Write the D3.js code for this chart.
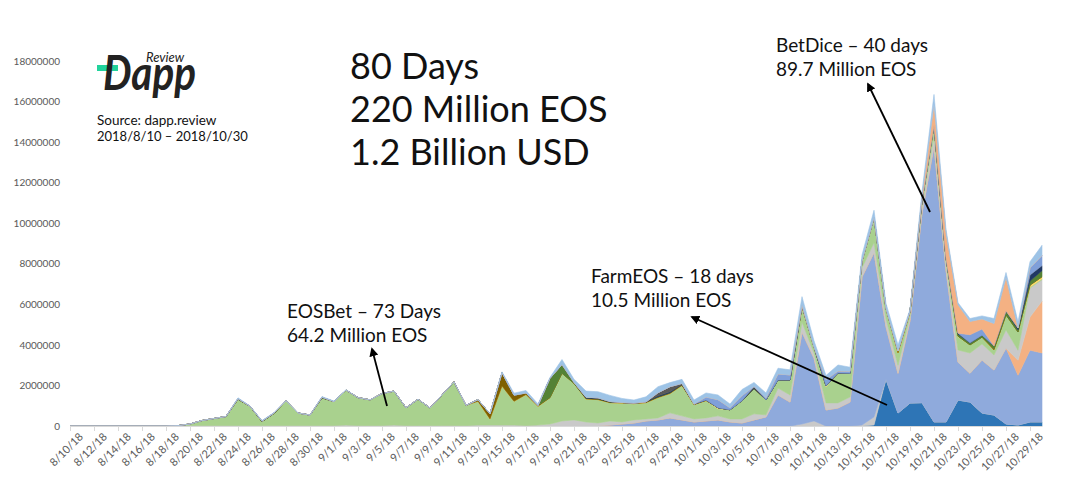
<!DOCTYPE html>
<html>
<head>
<meta charset="utf-8">
<script src="https://cdn.jsdelivr.net/npm/d3@7"></script>
<style>
	body { margin: 0; background: #fff; }
	text { font-family: Lato, 'Open Sans', sans-serif; }
	.axis-text { font-size: 10px; fill: #595959; }
	.x-text { font-size: 11px; fill: #595959; }
</style>
</head>
<body>
<div id="chart"></div>
<script>
// dates 8/10/18 .. 10/30/18
const dates = [
	'8/10/18','8/11/18','8/12/18','8/13/18','8/14/18','8/15/18','8/16/18','8/17/18','8/18/18','8/19/18',
	'8/20/18','8/21/18','8/22/18','8/23/18','8/24/18','8/25/18','8/26/18','8/27/18','8/28/18','8/29/18',
	'8/30/18','8/31/18','9/1/18','9/2/18','9/3/18','9/4/18','9/5/18','9/6/18','9/7/18','9/8/18',
	'9/9/18','9/10/18','9/11/18','9/12/18','9/13/18','9/14/18','9/15/18','9/16/18','9/17/18','9/18/18',
	'9/19/18','9/20/18','9/21/18','9/22/18','9/23/18','9/24/18','9/25/18','9/26/18','9/27/18','9/28/18',
	'9/29/18','9/30/18','10/1/18','10/2/18','10/3/18','10/4/18','10/5/18','10/6/18','10/7/18','10/8/18',
	'10/9/18','10/10/18','10/11/18','10/12/18','10/13/18','10/14/18','10/15/18','10/16/18','10/17/18','10/18/18',
	'10/19/18','10/20/18','10/21/18','10/22/18','10/23/18','10/24/18','10/25/18','10/26/18','10/27/18','10/28/18',
	'10/29/18','10/30/18'
];

// daily volume in million EOS, stacked bottom -> top
const farmeos = [
	0,0,0,0,0,0,0,0,0,0, 0,0,0,0,0,0,0,0,0,0, 0,0,0,0,0,0,0,0,0,0, 0,0,0,0,0,0,0,0,0,0,
	0,0,0,0,0,0,0,0,0,0, 0,0,0,0,0,0,0,0,0,0,
	0,0,0,0,0,0,0,0.05,2.3,0.64,
	1.13,1.15,0.2,0.2,1.28,1.18,0.64,0.54,0.1,0.05,
	0.2,0.2
];
const grayLow = [
	0,0,0,0,0,0,0,0,0,0, 0,0,0,0,0,0,0,0,0,0, 0,0,0,0,0,0,0,0,0,0, 0,0,0,0,0,0,0,0,0,0,
	0,0,0,0,0,0,0,0,0,0, 0,0,0,0,0,0,0,0,0,0,
	0,0.1,0.25,0,0,0,0.05,0.4,0,0,
	0,0,0,0,0,0,0,0,0,0,
	0,0
];
const betdice = [
	0,0,0,0,0,0,0,0,0,0, 0,0,0,0,0,0,0,0,0,0, 0,0,0,0,0,0,0,0,0,0, 0,0,0,0,0,0,0,0,0,0,
	0,0,0,0,0,0.05,0.1,0.15,0.25,0.3,
	0.4,0.3,0.2,0.25,0.3,0.2,0.15,0.3,0.45,1.53,
	1.18,4.53,3.1,0.79,0.89,1.18,7.3,8.1,2.6,1.96,
	4.07,9.35,13.6,7.5,1.87,1.42,2.61,2.22,3.74,2.45,
	3.54,3.4
];
const orangeLow = [
	0,0,0,0,0,0,0,0,0,0, 0,0,0,0,0,0,0,0,0,0, 0,0,0,0,0,0,0,0,0,0, 0,0,0,0,0,0,0,0,0,0,
	0,0,0,0,0,0,0,0,0,0, 0,0,0,0,0,0,0,0,0,0, 0,0,0,0,0,0,0,0,0,0,
	0,0,0,0,0,0,0,0,0,0.74,
	1.63,2.56
];
const gray = [
	0,0,0,0,0,0,0,0,0,0,
	0.02,0.02,0.02,0.02,0.02,0.02,0.02,0.02,0.02,0.02,
	0.02,0.02,0.03,0.05,0.03,0.02,0.03,0.05,0.03,0.02,
	0.02,0.03,0.03,0.02,0.05,0.05,0.05,0.05,0.03,0.05,
	0.1,0.25,0.3,0.2,0.15,0.2,0.1,0.15,0.1,0.1,
	0.25,0.2,0.15,0.15,0.2,0.15,0.2,0.3,0.1,0.34,
	0.35,0.5,0.25,0.35,0.25,0.25,0.45,0.5,0.4,0.4,
	0.2,0.3,0.5,0.3,0.6,1.0,0.8,0.74,0.9,0.5,
	1.43,1.05
];
const eosbet = [
	0,0,0,0,0,0,0,0,0,0.02,
	0.08,0.25,0.35,0.45,1.3,0.95,0.2,0.6,1.22,0.62,
	0.52,1.37,1.17,1.72,1.37,1.27,1.57,1.67,0.87,1.3,
	0.87,1.5,2.15,1.0,1.17,0.3,1.92,1.17,1.52,0.92,
	1.3,2.35,1.8,1.13,1.15,0.9,0.93,0.8,0.8,1.0,
	0.95,1.5,0.7,0.85,0.35,0.45,0.9,1.25,0.74,0.4,
	0.74,0.75,0.3,0.8,1.47,1.17,0.33,1.24,0.5,0.6,
	0.2,0.3,0.5,0.3,0.65,0.4,0.33,0.25,0.74,0.9,
	0.05,0.05
];
const yellow = [
	0,0,0,0,0,0,0,0,0,0, 0,0,0,0,0,0,0,0,0,0, 0,0,0,0,0,0,0,0,0,0, 0,0,0,0,0,0,0,0,0,0,
	0,0,0,0,0,0,0,0,0,0,
	0,0,0,0,0.05,0,0,0,0,0,
	0,0,0,0.05,0,0,0,0,0,0,
	0,0,0,0,0.03,0,0,0,0,0,
	0.1,0.1
];
const brown = [
	0,0,0,0,0,0,0,0,0,0, 0,0,0,0,0,0,0,0,0,0, 0,0,0,0,0,0,0,0,0,0,
	0,0,0,0,0.08,0.25,0.65,0.3,0.08,0.04,
	0,0,0,0.04,0.04,0.03,0.03,0.03,0.04,0.04,
	0.04,0.05,0.03,0.03,0,0,0,0,0,0,
	0,0.05,0,0,0,0,0,0,0,0.1,
	0.05,0,0.05,0,0,0,0,0.05,0,0,
	0,0
];
const darkgreen = [
	0,0,0,0,0,0,0,0,0,0, 0,0,0,0,0,0,0,0,0,0, 0,0,0,0,0,0,0,0,0,0, 0,0,0,0,0,0,0,0,0,0,
	0.95,0.43,0.05,0,0,0,0,0,0,0,
	0,0,0,0,0,0,0,0,0,0, 0,0,0,0,0,0,0,0,0,0,
	0,0,0,0,0.1,0.1,0.1,0.15,0.2,0.1,
	0.2,0.3
];
const navy = [
	0,0,0,0,0,0,0,0,0,0,
	0,0,0,0,0.03,0,0.02,0.02,0,0,
	0,0.03,0,0,0,0,0,0,0,0,
	0,0,0,0,0,0,0,0,0,0,
	0,0,0,0.05,0.05,0.03,0,0,0,0.05,
	0.05,0,0,0,0,0,0,0.05,0,0,
	0,0,0,0,0,0,0,0,0,0,
	0,0,0,0,0.05,0,0,0,0,0.1,
	0.3,0.25
];
const darkgrey = [
	0,0,0,0,0,0,0,0,0,0, 0,0,0,0,0,0,0,0,0,0, 0,0,0,0,0,0,0,0,0,0, 0,0,0,0,0,0,0,0,0,0,
	0,0,0,0,0,0,0,0,0,0.15,
	0.25,0.05,0,0,0,0,0,0.05,0,0,
	0,0,0,0,0,0,0,0,0,0, 0,0,0,0,0,0,0,0,0,0,
	0,0
];
const blue2 = [
	0,0,0,0,0,0,0,0,0,0, 0,0,0,0,0,0,0,0,0,0, 0,0,0,0,0,0,0,0,0,0, 0,0,0,0,0,0,0,0,0,0,
	0,0,0,0,0,0,0,0,0,0,
	0,0,0,0.15,0.4,0.1,0.25,0,0.1,0.3,
	0.25,0,0,0.3,0.1,0.1,0,0,0,0,
	0,0,0,0,0,0.4,0.3,0,0,0,
	0.35,0.5
];
const orangeHigh = [
	0,0,0,0,0,0,0,0,0,0, 0,0,0,0,0,0,0,0,0,0, 0,0,0,0,0,0,0,0,0,0, 0,0,0,0,0,0,0,0,0,0,
	0,0,0,0,0,0,0,0,0,0, 0,0,0,0,0,0,0,0,0,0,
	0,0.05,0,0,0,0,0,0,0,0,
	0,0.2,1.0,1.2,1.4,0.65,0.5,1.1,1.64,0,
	0,0
];
const lightblue = [
	0,0,0,0,0,0,0,0,0,0,
	0,0,0,0,0.04,0.02,0.03,0.02,0.02,0,
	0,0.03,0.03,0.02,0,0,0,0,0,0,
	0,0,0,0,0,0.02,0.05,0.1,0.12,0.08,
	0.05,0.25,0.15,0.3,0.3,0.3,0.2,0.15,0.25,0.3,
	0.2,0.2,0.2,0.2,0.23,0.18,0.3,0.2,0.24,0.28,
	0.25,0.4,0.3,0.2,0.3,0.2,0.3,0.35,0.25,0.3,
	0.1,0.25,0.5,0.2,0.1,0.15,0.15,0.25,0.25,0.3,
	0.3,0.5
];

const seriesList = [
	{ key: 'farmeos', values: farmeos, color: '#2e75b6' },
	{ key: 'grayLow', values: grayLow, color: '#c9c9c9' },
	{ key: 'betdice', values: betdice, color: '#8faadc' },
	{ key: 'orangeLow', values: orangeLow, color: '#f4b183' },
	{ key: 'gray', values: gray, color: '#c9c9c9' },
	{ key: 'eosbet', values: eosbet, color: '#a9d18e' },
	{ key: 'yellow', values: yellow, color: '#ffd966' },
	{ key: 'brown', values: brown, color: '#7f6000' },
	{ key: 'darkgreen', values: darkgreen, color: '#548235' },
	{ key: 'navy', values: navy, color: '#203864' },
	{ key: 'darkgrey', values: darkgrey, color: '#595959' },
	{ key: 'blue2', values: blue2, color: '#7f9fd9' },
	{ key: 'orangeHigh', values: orangeHigh, color: '#f4b183' },
	{ key: 'lightblue', values: lightblue, color: '#9dc3e6' },
];

const yTicks = [0, 2000000, 4000000, 6000000, 8000000, 10000000, 12000000, 14000000, 16000000, 18000000];

const width = 1068;
const height = 497;

// Build the table for d3.stack (values in EOS)
const table = dates.map((d, i) => {
	const row = { i };
	seriesList.forEach((s) => (row[s.key] = s.values[i] * 1e6));
	return row;
});

const stack = d3.stack().keys(seriesList.map((s) => s.key));
const layers = stack(table);

const x = d3.scaleLinear().domain([0, dates.length - 1]).range([70, 1042]);
const y = d3.scaleLinear().domain([0, 18000000]).range([426, 61]);

const svg = d3
	.select('#chart')
	.append('svg')
	.attr('width', width)
	.attr('height', height);

svg.append('rect').attr('width', width).attr('height', height).attr('fill', '#fff');

// Areas
const area = d3
	.area()
	.x((d) => x(d.data.i))
	.y0((d) => y(d[0]))
	.y1((d) => y(d[1]));

svg.append('g')
	.selectAll('path')
	.data(layers)
	.enter()
	.append('path')
	.attr('d', area)
	.attr('fill', (d, i) => seriesList[i].color)
	.attr('stroke', (d, i) => seriesList[i].color)
	.attr('stroke-width', 0.6);

// Y axis
const yAxis = svg
	.append('g')
	.attr('transform', 'translate(62,0)')
	.call(d3.axisLeft(y).tickValues(yTicks).tickFormat(d3.format('d')).tickSize(0));
yAxis.select('.domain').remove();
yAxis.selectAll('text').attr('class', 'axis-text').attr('x', -2);

// X axis
const evenIdx = dates.map((d, i) => i).filter((i) => i % 2 === 0);
const xAxis = svg
	.append('g')
	.attr('transform', 'translate(0,426)')
	.call(
		d3.axisBottom(x)
			.tickValues(evenIdx)
			.tickFormat((i) => dates[i])
			.tickSize(5)
			.tickSizeOuter(0)
	);
xAxis.select('.domain').attr('stroke', '#d9d9d9');
xAxis.selectAll('line').attr('stroke', '#d9d9d9');
xAxis.selectAll('text')
	.attr('class', 'x-text')
	.attr('text-anchor', 'end')
	.attr('transform', 'translate(5,3) rotate(-45)')
	.attr('x', 0)
	.attr('y', 8)
	.attr('dy', '0.35em');

// Logo
svg.append('rect').attr('x', 97).attr('y', 65).attr('width', 21).attr('height', 6).attr('fill', '#22d39c');
svg.append('text')
	.attr('x', 103)
	.attr('y', 90)
	.attr('font-size', 48)
	.attr('font-weight', 'bold')
	.attr('font-style', 'italic')
	.attr('fill', '#222')
	.attr('textLength', 93)
	.attr('lengthAdjust', 'spacingAndGlyphs')
	.text('Dapp');
svg.append('text')
	.attr('x', 146)
	.attr('y', 62)
	.attr('font-size', 13)
	.attr('font-style', 'italic')
	.attr('fill', '#222')
	.text('Review');

svg.append('text').attr('x', 97).attr('y', 125).attr('font-size', 13.5).attr('fill', '#111').text('Source: dapp.review');
svg.append('text').attr('x', 97).attr('y', 141).attr('font-size', 13).attr('fill', '#111').text('2018/8/10 – 2018/10/30');

// Headline
const headline = ['80 Days', '220 Million EOS', '1.2 Billion USD'];
svg.append('g')
	.selectAll('text')
	.data(headline)
	.enter()
	.append('text')
	.attr('x', 350)
	.attr('y', (d, i) => 79 + i * 43)
	.attr('font-size', 36)
	.attr('fill', '#111')
	.text((d) => d);

// Annotations
const notes = [
	{ lines: ['BetDice – 40 days', '89.7 Million EOS'], x: 776, y: 52 },
	{ lines: ['FarmEOS – 18 days', '10.5 Million EOS'], x: 591, y: 283 },
	{ lines: ['EOSBet – 73 Days', '64.2 Million EOS'], x: 287, y: 318 },
];
notes.forEach((n) => {
	svg.append('g')
		.selectAll('text')
		.data(n.lines)
		.enter()
		.append('text')
		.attr('x', n.x)
		.attr('y', (d, i) => n.y + i * 24)
		.attr('font-size', 19)
		.attr('fill', '#111')
		.text((d) => d);
});

// Arrow marker
svg.append('defs')
	.append('marker')
	.attr('id', 'arrow')
	.attr('viewBox', '0 0 10 10')
	.attr('refX', 8)
	.attr('refY', 5)
	.attr('markerWidth', 5)
	.attr('markerHeight', 5)
	.attr('orient', 'auto')
	.append('path')
	.attr('d', 'M0,0 L10,5 L0,10 z')
	.attr('fill', '#000');

const arrows = [
	{ x1: 930, y1: 212, x2: 868, y2: 84 },
	{ x1: 887, y1: 405, x2: 692, y2: 317 },
	{ x1: 387, y1: 406, x2: 372, y2: 349 },
];
svg.append('g')
	.selectAll('line')
	.data(arrows)
	.enter()
	.append('line')
	.attr('x1', (d) => d.x1)
	.attr('y1', (d) => d.y1)
	.attr('x2', (d) => d.x2)
	.attr('y2', (d) => d.y2)
	.attr('stroke', '#000')
	.attr('stroke-width', 1.8)
	.attr('marker-end', 'url(#arrow)');
</script>
</body>
</html>
